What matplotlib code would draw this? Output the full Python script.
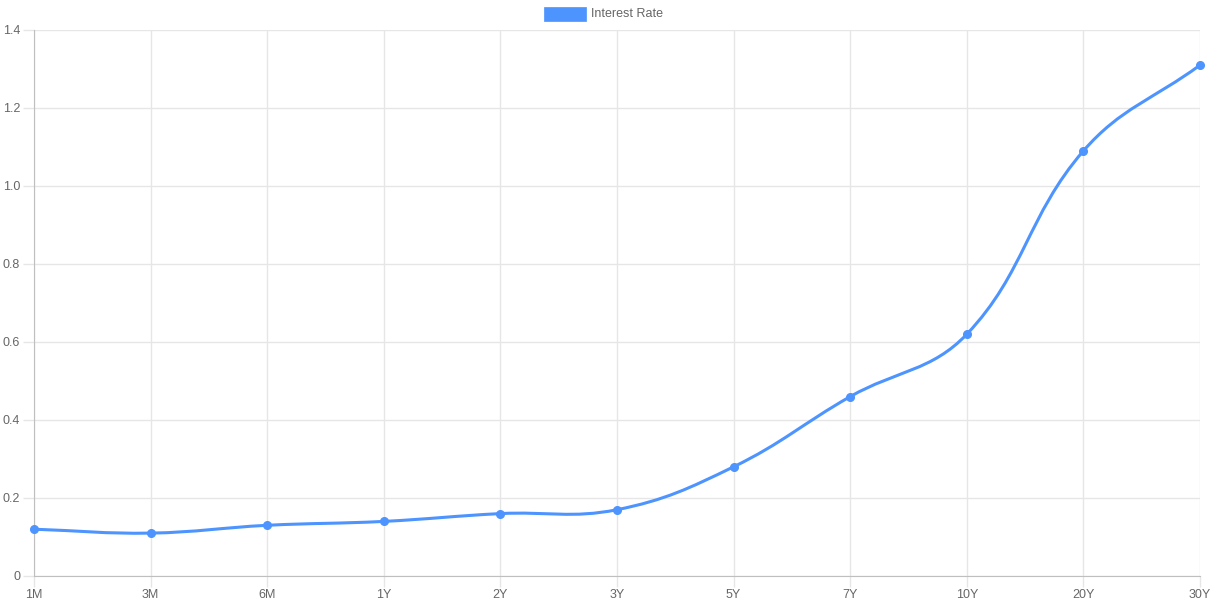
import numpy as np
import matplotlib.pyplot as plt
from matplotlib.path import Path
from matplotlib.patches import PathPatch, Rectangle

labels = ["1M", "3M", "6M", "1Y", "2Y", "3Y", "5Y", "7Y", "10Y", "20Y", "30Y"]
rates = [0.12, 0.11, 0.13, 0.14, 0.16, 0.17, 0.28, 0.46, 0.62, 1.09, 1.31]
yticks = [0, 0.2, 0.4, 0.6, 0.8, 1.0, 1.2, 1.4]
ytick_labels = ["0", "0.2", "0.4", "0.6", "0.8", "1.0", "1.2", "1.4"]

blue = "#4d94ff"
grey = "#666666"
W, H = 1222, 616
L, R, T, B = 34, 1200, 30, 576

plt.rcParams['font.family'] = ['Liberation Sans', 'DejaVu Sans']
fig = plt.figure(figsize=(W / 100, H / 100), dpi=100)
ax = fig.add_axes([L / W, 1 - B / H, (R - L) / W, (B - T) / H])

x = np.arange(len(rates))
y = np.array(rates)
ax.set_xlim(0, len(rates) - 1)
ax.set_ylim(0, 1.4)

# bezier curve like chart.js (tension 0.4), worked out in pixel space
sx = (R - L) / (len(rates) - 1)
sy = (B - T) / 1.4
px, py = x * sx, y * sy
t = 0.4
verts = [(x[0], y[0])]
codes = [Path.MOVETO]
ctrl_prev, ctrl_next = [], []
for i in range(len(px)):
    a = max(i - 1, 0)
    c = min(i + 1, len(px) - 1)
    d01 = np.hypot(px[i] - px[a], py[i] - py[a])
    d12 = np.hypot(px[c] - px[i], py[c] - py[i])
    tot = d01 + d12 if d01 + d12 > 0 else 1
    fa, fb = t * d01 / tot, t * d12 / tot
    ctrl_prev.append((px[i] - fa * (px[c] - px[a]), py[i] - fa * (py[c] - py[a])))
    ctrl_next.append((px[i] + fb * (px[c] - px[a]), py[i] + fb * (py[c] - py[a])))
for i in range(1, len(px)):
    c1 = ctrl_next[i - 1]
    c2 = ctrl_prev[i]
    verts += [(c1[0] / sx, c1[1] / sy), (c2[0] / sx, c2[1] / sy), (x[i], y[i])]
    codes += [Path.CURVE4] * 3
ax.add_patch(PathPatch(Path(verts, codes), fill=False, edgecolor=blue, lw=2.2,
                       zorder=3, clip_on=False))
ax.plot(x, y, 'o', color=blue, ms=5.5, zorder=4, clip_on=False)

ax.set_xticks(x)
ax.set_xticklabels(labels)
ax.set_yticks(yticks)
ax.set_yticklabels(ytick_labels)
ax.grid(True, color="#e6e6e6", lw=1)
ax.set_axisbelow(True)
ax.tick_params(colors="#e6e6e6", labelcolor=grey, labelsize=9, length=8, width=1)
ax.tick_params(axis='x', pad=1)
ax.tick_params(axis='y', pad=2)
for s in ["top", "right"]:
    ax.spines[s].set_visible(False)
for s in ["left", "bottom"]:
    ax.spines[s].set_color("#bfbfbf")

# legend
fig.add_artist(Rectangle((544 / W, 1 - 21 / H), 42 / W, 14 / H, transform=fig.transFigure,
                         facecolor=blue, edgecolor=blue, lw=0.5))
fig.text(591 / W, 1 - 14 / H, "Interest Rate", color=grey, fontsize=9, va='center')

fig.savefig("out.png", dpi=100)
